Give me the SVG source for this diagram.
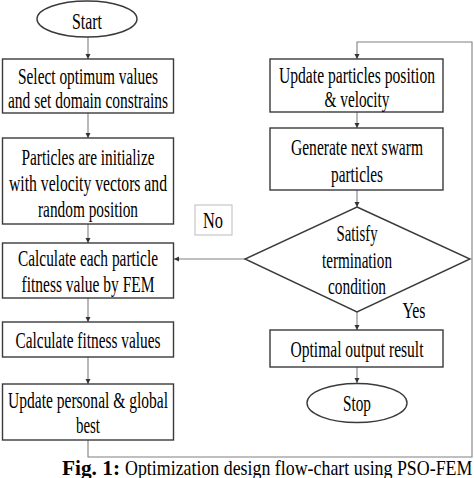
<svg xmlns="http://www.w3.org/2000/svg" width="474" height="478" viewBox="0 0 474 478">
<style>
.box{fill:#fff;stroke:#3a3a3a;stroke-width:1.4}
.lbl{fill:#fff;stroke:#bbb;stroke-width:1}
.t{font-family:"Liberation Serif","Times New Roman",serif;font-size:24px;fill:#000;text-anchor:middle}
.c{fill:none;stroke:#808080;stroke-width:1.1}
.cap{font-family:"Liberation Serif","Times New Roman",serif;font-size:20px;fill:#000}
</style>
<defs>
<marker id="ah" markerUnits="userSpaceOnUse" markerWidth="6" markerHeight="6" refX="5" refY="3" orient="auto">
<path d="M0,0.5 L5,3 L0,5.5 Z" fill="#333"/>
</marker>
</defs>
<rect width="474" height="478" fill="#fff"/>
<g id="connectors">
<line class="c" x1="88" y1="37" x2="88" y2="59" marker-end="url(#ah)"/>
<line class="c" x1="88" y1="113" x2="88" y2="138" marker-end="url(#ah)"/>
<line class="c" x1="88" y1="224" x2="88" y2="243" marker-end="url(#ah)"/>
<line class="c" x1="88" y1="298" x2="88" y2="322" marker-end="url(#ah)"/>
<line class="c" x1="88" y1="357" x2="88" y2="384" marker-end="url(#ah)"/>
<polyline class="c" points="88,440 88,457 472,457 472,42 357,42 357,59" marker-end="url(#ah)"/>
<line class="c" x1="357" y1="112" x2="357" y2="128" marker-end="url(#ah)"/>
<line class="c" x1="357" y1="190" x2="357" y2="207" marker-end="url(#ah)"/>
<line class="c" x1="357" y1="312" x2="357" y2="330" marker-end="url(#ah)"/>
<line class="c" x1="357" y1="367" x2="357" y2="383" marker-end="url(#ah)"/>
<line class="c" x1="245" y1="259" x2="174" y2="259" marker-end="url(#ah)"/>
</g>
<g id="start">
<ellipse class="box" cx="87" cy="19" rx="50" ry="18"/>
<text class="t" transform="translate(87,29) scale(0.7,1)" textLength="42.9" lengthAdjust="spacingAndGlyphs">Start</text>
</g>
<g id="select">
<rect class="box" x="2.5" y="59" width="171" height="54"/>
<text class="t" transform="translate(88,84) scale(0.7,1)" textLength="200" lengthAdjust="spacingAndGlyphs">Select optimum values</text>
<text class="t" transform="translate(88,108) scale(0.7,1)" textLength="228.6" lengthAdjust="spacingAndGlyphs">and set domain constrains</text>
</g>
<g id="init">
<rect class="box" x="2.5" y="138" width="171" height="86"/>
<text class="t" transform="translate(88,165) scale(0.7,1)" textLength="190" lengthAdjust="spacingAndGlyphs">Particles are initialize</text>
<text class="t" transform="translate(88,191) scale(0.7,1)" textLength="225.7" lengthAdjust="spacingAndGlyphs">with velocity vectors and</text>
<text class="t" transform="translate(88,217) scale(0.7,1)" textLength="142.9" lengthAdjust="spacingAndGlyphs">random position</text>
</g>
<g id="fem">
<rect class="box" x="2.5" y="243" width="171" height="55"/>
<text class="t" transform="translate(88,266) scale(0.7,1)" textLength="200" lengthAdjust="spacingAndGlyphs">Calculate each particle</text>
<text class="t" transform="translate(88,292) scale(0.7,1)" textLength="190" lengthAdjust="spacingAndGlyphs">fitness value by FEM</text>
</g>
<g id="fitness">
<rect class="box" x="2.5" y="322" width="171" height="35"/>
<text class="t" transform="translate(88,348) scale(0.7,1)" textLength="207.1" lengthAdjust="spacingAndGlyphs">Calculate fitness values</text>
</g>
<g id="best">
<rect class="box" x="2.5" y="384" width="171" height="56"/>
<text class="t" transform="translate(88,408) scale(0.7,1)" textLength="228.6" lengthAdjust="spacingAndGlyphs">Update personal &amp; global</text>
<text class="t" transform="translate(88,433) scale(0.7,1)" textLength="34.3" lengthAdjust="spacingAndGlyphs">best</text>
</g>
<g id="update">
<rect class="box" x="270" y="59" width="173" height="53"/>
<text class="t" transform="translate(357,83) scale(0.7,1)" textLength="222.9" lengthAdjust="spacingAndGlyphs">Update particles position</text>
<text class="t" transform="translate(357,107) scale(0.7,1)" textLength="92.9" lengthAdjust="spacingAndGlyphs">&amp; velocity</text>
</g>
<g id="generate">
<rect class="box" x="270" y="128" width="173" height="62"/>
<text class="t" transform="translate(357,155) scale(0.7,1)" textLength="188.6" lengthAdjust="spacingAndGlyphs">Generate next swarm</text>
<text class="t" transform="translate(357,182) scale(0.7,1)" textLength="74.3" lengthAdjust="spacingAndGlyphs">particles</text>
</g>
<g id="decision">
<polygon class="box" points="357,207 470,259 357,312 245,259"/>
<text class="t" transform="translate(357,241) scale(0.7,1)" textLength="58.6" lengthAdjust="spacingAndGlyphs">Satisfy</text>
<text class="t" transform="translate(357,268) scale(0.7,1)" textLength="100" lengthAdjust="spacingAndGlyphs">termination</text>
<text class="t" transform="translate(357,294) scale(0.7,1)" textLength="82.9" lengthAdjust="spacingAndGlyphs">condition</text>
</g>
<g id="label-no">
<rect class="lbl" x="195" y="205" width="37" height="30"/>
<text class="t" transform="translate(213,228) scale(0.7,1)" textLength="28.6" lengthAdjust="spacingAndGlyphs">No</text>
</g>
<g id="label-yes">
<text class="t" transform="translate(414,318) scale(0.7,1)" textLength="32.9" lengthAdjust="spacingAndGlyphs">Yes</text>
</g>
<g id="output">
<rect class="box" x="270" y="330" width="173" height="37"/>
<text class="t" transform="translate(357,357) scale(0.7,1)" textLength="190" lengthAdjust="spacingAndGlyphs">Optimal output result</text>
</g>
<g id="stop">
<ellipse class="box" cx="357" cy="403" rx="50" ry="19.5"/>
<text class="t" transform="translate(357,411) scale(0.7,1)" textLength="40" lengthAdjust="spacingAndGlyphs">Stop</text>
</g>
<g id="caption">
<text class="cap" x="62" y="475" font-weight="bold" textLength="58" lengthAdjust="spacingAndGlyphs">Fig. 1:</text>
<text class="cap" transform="translate(125,475) scale(0.9,1)" textLength="386" lengthAdjust="spacingAndGlyphs">Optimization design flow-chart using PSO-FEM</text>
</g>
</svg>
